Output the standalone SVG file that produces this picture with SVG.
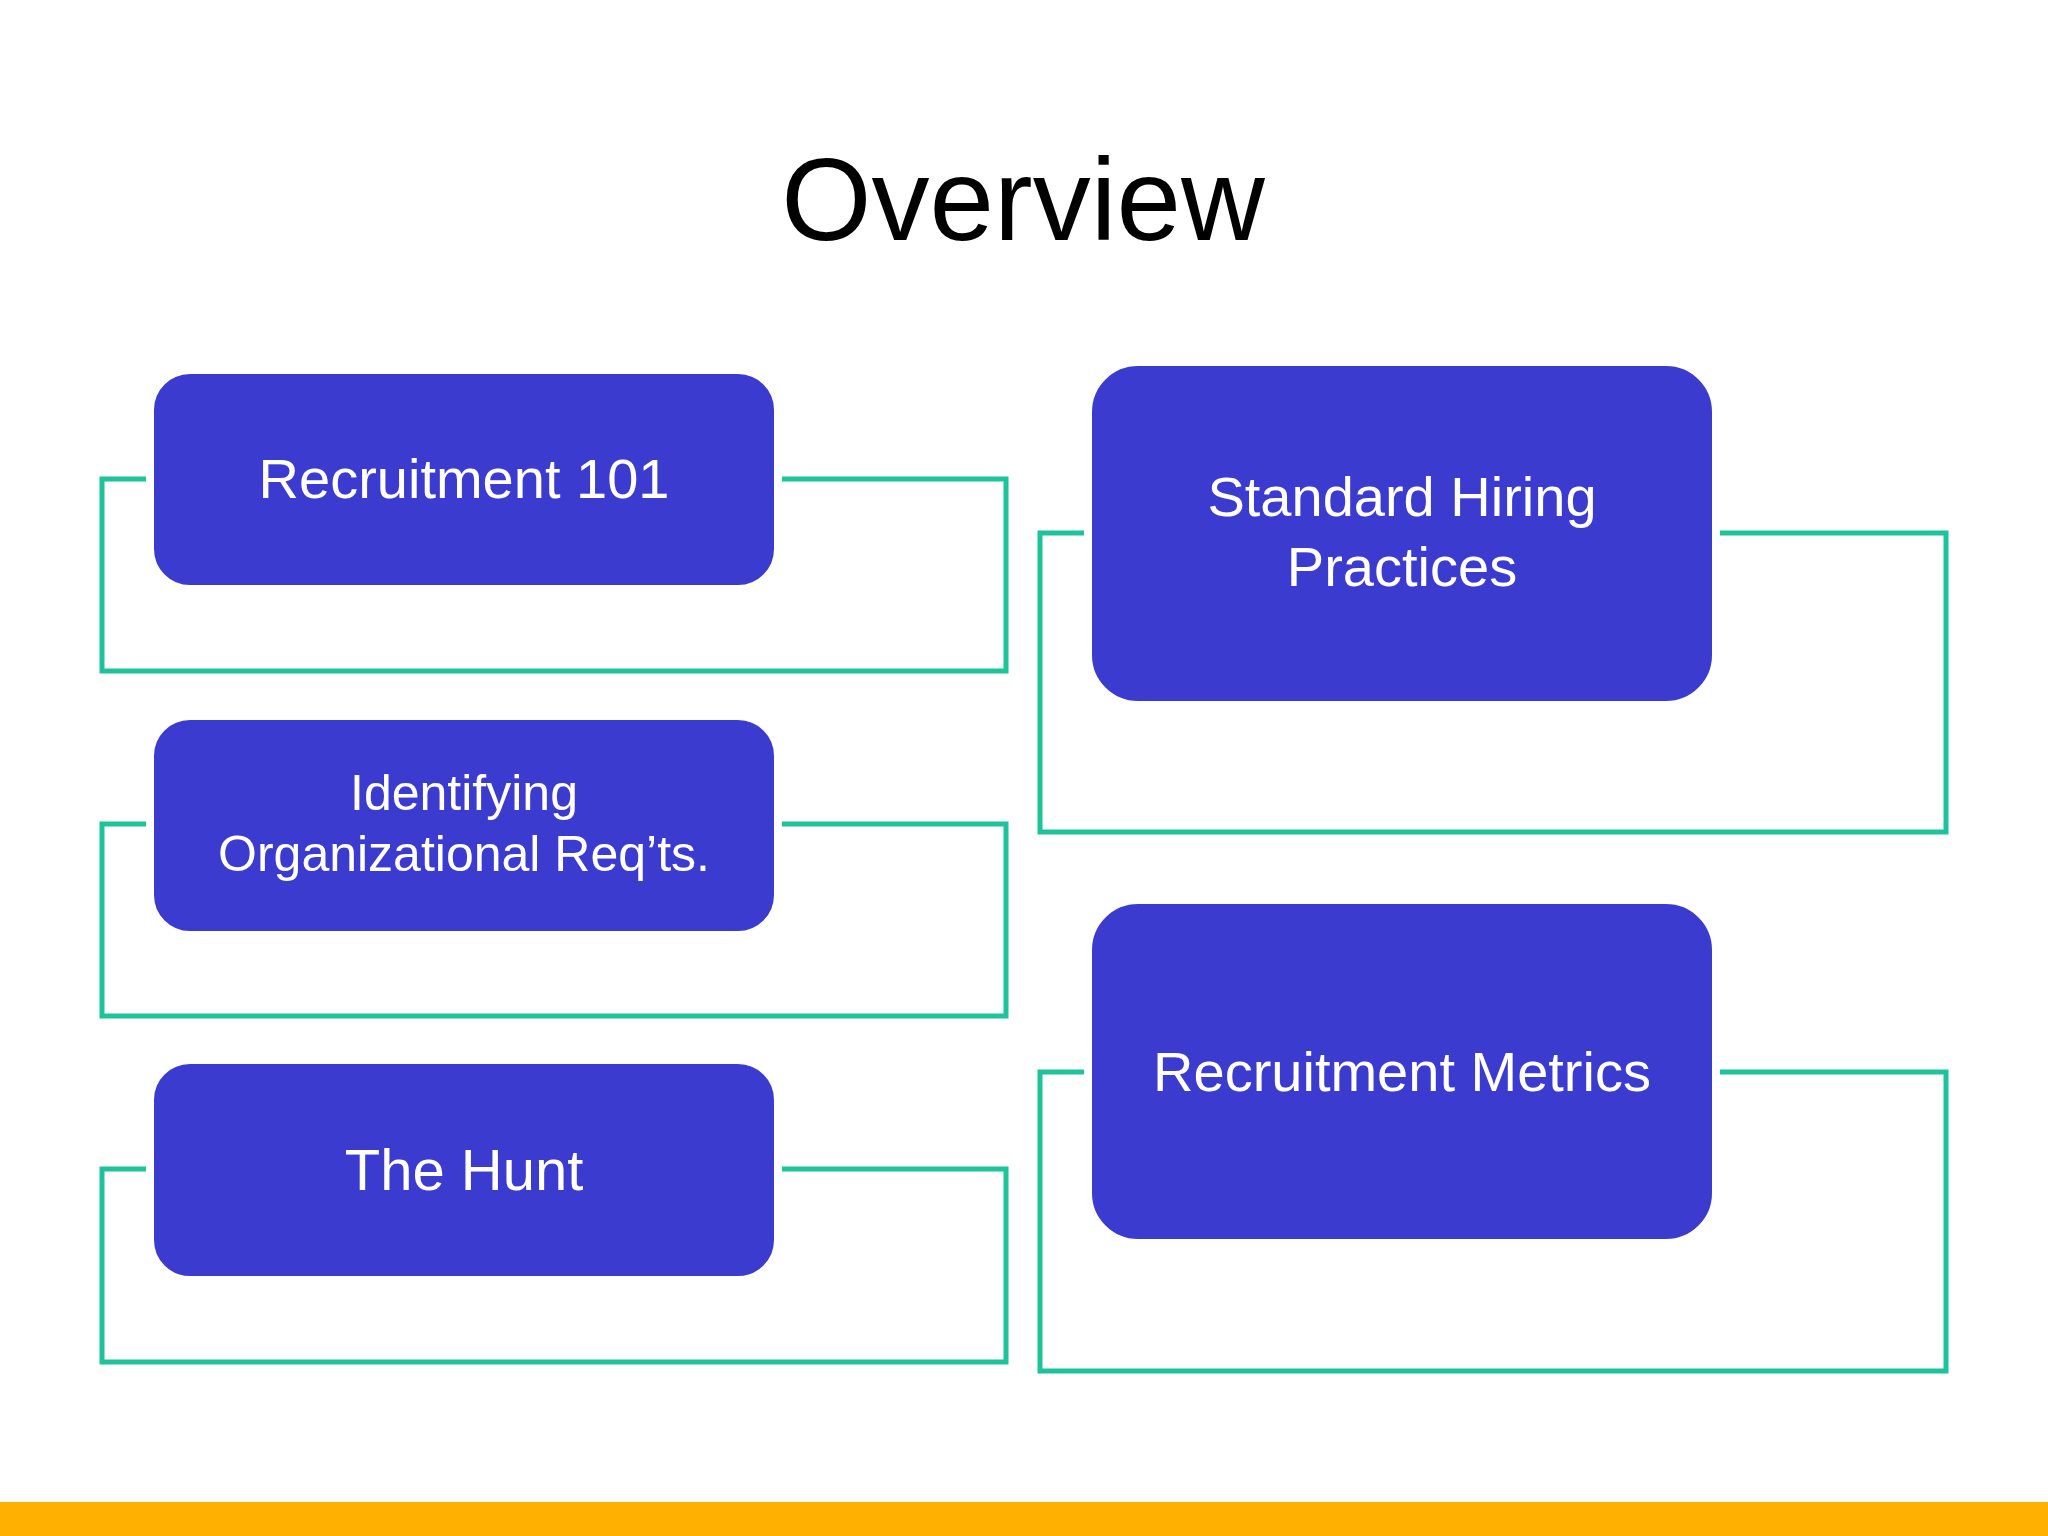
<svg xmlns="http://www.w3.org/2000/svg" width="2048" height="1536" viewBox="0 0 2048 1536">
<style>
.c{fill:none;stroke:#1DC49A;stroke-width:5}
.b{fill:#3B3BD0;stroke:#ffffff;stroke-width:8}
.t{fill:#ffffff;font-family:"Liberation Sans",Arial,sans-serif;text-anchor:middle;dominant-baseline:central}
</style>
<rect width="2048" height="1536" fill="#ffffff"/>
<text x="1023" y="200" font-family="Liberation Sans,Arial,sans-serif" font-size="116" text-anchor="middle" dominant-baseline="central" fill="#000">Overview</text>
<g id="connectors">
<rect class="c" x="102" y="479" width="904" height="192"/>
<rect class="c" x="102" y="824" width="904" height="192"/>
<rect class="c" x="102" y="1169" width="904" height="193"/>
<rect class="c" x="1040" y="533" width="906" height="299"/>
<rect class="c" x="1040" y="1072" width="906" height="299"/>
</g>
<g id="n1"><rect class="b" x="150" y="370" width="628" height="219" rx="40"/><text class="t" x="464" y="478" font-size="56">Recruitment 101</text></g>
<g id="n2"><rect class="b" x="150" y="716" width="628" height="219" rx="40"/><text class="t" x="464" y="793" font-size="50">Identifying</text><text class="t" x="464" y="854" font-size="50">Organizational Req’ts.</text></g>
<g id="n3"><rect class="b" x="150" y="1060" width="628" height="220" rx="40"/><text class="t" x="464" y="1169" font-size="58">The Hunt</text></g>
<g id="n4"><rect class="b" x="1088" y="362" width="628" height="343" rx="50"/><text class="t" x="1402" y="496" font-size="56">Standard Hiring</text><text class="t" x="1402" y="566" font-size="56">Practices</text></g>
<g id="n5"><rect class="b" x="1088" y="900" width="628" height="343" rx="50"/><text class="t" x="1402" y="1071" font-size="56">Recruitment Metrics</text></g>
<rect x="0" y="1502" width="2048" height="34" fill="#FFB000"/>
</svg>
